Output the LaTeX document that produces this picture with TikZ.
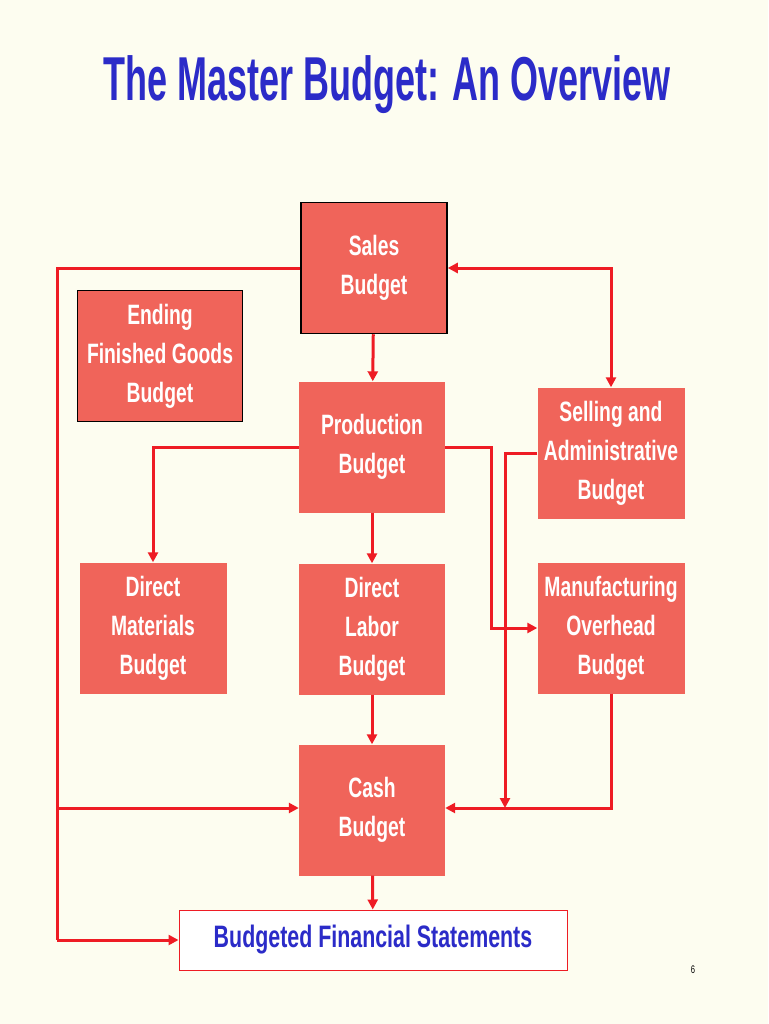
\documentclass[tikz,border=0pt]{standalone}
\usepackage{fontspec}
\newfontfamily\narrowfont[FakeStretch=0.69]{Liberation Sans}
\newfontfamily\titlefont[FakeStretch=0.58]{Liberation Sans}
\usetikzlibrary{arrows.meta, positioning}
\definecolor{boxred}{HTML}{F0645A}
\definecolor{linered}{HTML}{EE1C24}
\definecolor{titleblue}{HTML}{2B2BC8}
\definecolor{paper}{HTML}{FDFDF0}

\begin{document}
\begin{tikzpicture}[
  x=1pt, y=-1pt,
  budget/.style = {rectangle, fill=boxred, minimum width=146pt, minimum height=131pt, inner sep=0pt,
    align=center, text=white, font=\narrowfont\bfseries\fontsize{28}{39}\selectfont},
  keybox/.style = {budget, draw=black, line width=1.5pt},
  link/.style = {draw=linered, line width=3pt, -{Triangle[length=10pt,width=10pt]}},
  line/.style = {draw=linered, line width=3pt}
  ]

  % Fond
  \fill[paper] (0,0) rectangle (768,1024);
  \useasboundingbox (0,0) rectangle (768,1024);

  % Titre
  \node[text=titleblue, font=\titlefont\bfseries\fontsize{62}{70}\selectfont] (title) at (387,85) {The Master Budget: An Overview};

  % Noeuds
  \node[keybox] (sales) at (374,268) {Sales\\Budget};
  \node[keybox, minimum width=165pt] (ending) at (160,356) {Ending\\Finished Goods\\Budget};
  \node[budget] (production) at (372,447) {Production\\Budget};
  \node[budget, minimum width=147pt] (selling) at (611,453) {Selling and\\Administrative\\Budget};
  \node[budget, minimum width=147pt] (materials) at (153,628) {Direct\\Materials\\Budget};
  \node[budget] (labor) at (372,629) {Direct\\Labor\\Budget};
  \node[budget, minimum width=147pt] (overhead) at (611,628) {Manufacturing\\Overhead\\Budget};
  \node[budget] (cash) at (372,810) {Cash\\Budget};
  \node[rectangle, fill=white, draw=linered, line width=1pt, minimum width=388pt, minimum height=60pt,
    text=titleblue, font=\narrowfont\bfseries\fontsize{31}{36}\selectfont] (statements) at (373,940) {Budgeted Financial Statements};
  \node[font=\narrowfont\fontsize{11}{13}\selectfont] (page) at (693,970) {6};

  \coordinate (left top) at (57,268);
  \coordinate (left cash) at (57,808);
  \coordinate (left fs) at (57,940);
  \coordinate (sell drop) at (505,808);

  % Flèches
  \draw[line] (sales.west |- left top) -- (left top) -- (left fs);
  \draw[link] (left fs) -- (statements.west |- left fs);
  \draw[link] (left cash) -- (cash.west |- left cash);
  \draw[draw=linered, line width=3pt, {Triangle[length=10pt,width=10pt]}-{Triangle[length=10pt,width=10pt]}]
    (sales.east |- left top) -- (selling.north |- left top) -- (selling.north);
  \draw[link] (sales) -- (production);
  \draw[link] (production.west) -| (materials.north);
  \draw[link] (production) -- (labor);
  \draw[link] (production.east) -- (491,447) |- (overhead.west);
  \draw[link] (selling.west) -- (505,453) -- (sell drop);
  \draw[link] (overhead.south) |- (cash.east |- left cash);
  \draw[link] (labor) -- (cash);
  \draw[link] (cash) -- (statements);

\end{tikzpicture}
\end{document}
